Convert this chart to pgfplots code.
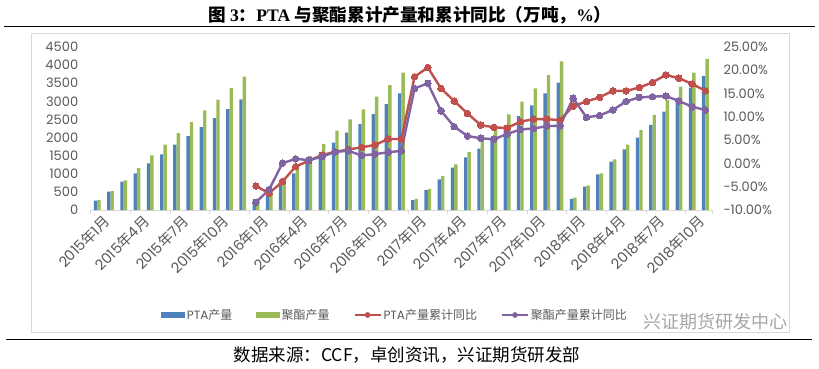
\documentclass[border=0pt]{standalone}
\usepackage{pgfplots}
\usepackage{pgfplotstable}
\pgfplotsset{compat=1.18}
\usepackage{fontspec}
\setmainfont{Poppins}
\newfontfamily\cjk{Noto Sans CJK SC}
\newfontfamily\tnr{Liberation Serif}
\definecolor{cblue}{HTML}{4F81BD}
\definecolor{cgreen}{HTML}{9BBB59}
\definecolor{cred}{HTML}{C0504D}
\definecolor{cpurple}{HTML}{8064A2}
\definecolor{tgray}{HTML}{595959}
\definecolor{lgray}{HTML}{D9D9D9}
\newcommand{\ym}[2]{#1{\cjk 年}#2{\cjk 月}}

\pgfplotstableread{
x pta pet
0 260 276
1 506 524
2 782 819
3 1012 1159
4 1288 1509
5 1536 1803
6 1803 2125
7 2042 2429
8 2291 2751
9 2539 3045
10 2788 3367
11 3054 3680
12 285 315
13 520 590
14 730 880
15 1012 1196
16 1300 1490
17 1545 1821
18 1858 2190
19 2134 2502
20 2373 2778
21 2650 3128
22 2925 3450
23 3220 3790
24 276 304
25 552 580
26 846 938
27 1168 1260
28 1453 1600
29 1693 1950
30 2005 2300
31 2300 2640
32 2590 2990
33 2890 3360
34 3220 3727
35 3514 4100
36 304 340
37 644 672
38 984 1012
39 1334 1398
40 1674 1803
41 1996 2208
42 2347 2623
43 2714 3037
44 3050 3404
45 3380 3791
46 3700 4165
}\bars

\pgfplotstableread{
x red pur
12 -4.85 -8.35
13 -6.4 -5.6
14 -3.9 0.03
15 -0.7 1.0
16 0.6 0.7
17 1.8 1.45
18 2.5 2.5
19 3.0 2.7
20 3.45 1.7
21 3.96 2.0
22 5.25 2.4
23 5.25 2.7
24 18.6 16.1
25 20.6 17.2
26 16.1 11.3
27 13.4 7.9
28 10.75 5.9
29 8.25 5.4
30 7.75 5.2
31 7.6 6.3
32 8.97 7.3
33 9.5 7.5
34 9.5 8.0
35 9.3 8.1
36 12.3 14.0
37 13.3 9.9
38 14.2 10.3
39 15.6 11.5
40 15.55 13.3
41 16.3 14.2
42 17.4 14.33
43 19.0 14.48
44 18.3 13.4
45 17.06 12.18
46 15.6 11.47
}\lines

\begin{document}
\begin{tikzpicture}
\path[use as bounding box] (0pt,0pt) rectangle (819pt,368pt);
% frame
\draw[lgray, line width=1pt] (31pt,36pt) rectangle (789pt,335pt);
% title
\node at (410pt,353pt) {\fontsize{17.6}{17.6}\selectfont\tnr\bfseries{\cjk\bfseries 图 }3{\cjk\bfseries ：}PTA {\cjk\bfseries 与聚酯累计产量和累计同比（万吨，}\%{\cjk\bfseries ）}};
\draw[black, line width=1pt] (4pt,342pt) -- (815pt,342pt);
\draw[black, line width=1pt] (6pt,29pt) -- (812pt,29pt);
\node at (407pt,13pt) {\fontsize{17.5}{17.5}\selectfont\cjk 数据来源：CCF，卓创资讯，兴证期货研发部};

\begin{axis}[
  at={(90.7pt,158pt)}, anchor=south west, scale only axis,
  width=621.3pt, height=163pt,
  xmin=-0.5, xmax=46.5, ymin=0, ymax=4500,
  ybar=0pt, bar width=3.4pt,
  axis y line*=left, axis x line*=bottom,
  y axis line style={draw=none},
  x axis line style={lgray, line width=0.8pt},
  ytick={0,500,...,4500},
  yticklabels={0,500,1000,1500,2000,2500,3000,3500,4000,4500},
  yticklabel style={text=tgray, font=\fontsize{13}{13}\selectfont, xshift=-9pt},
  xtick={0,3,...,45},
  xticklabels={\ym{2015}{1},\ym{2015}{4},\ym{2015}{7},\ym{2015}{10},
               \ym{2016}{1},\ym{2016}{4},\ym{2016}{7},\ym{2016}{10},
               \ym{2017}{1},\ym{2017}{4},\ym{2017}{7},\ym{2017}{10},
               \ym{2018}{1},\ym{2018}{4},\ym{2018}{7},\ym{2018}{10}},
  xticklabel style={text=tgray, font=\fontsize{14.5}{14.5}\selectfont, rotate=45, anchor=north east, inner sep=1pt, yshift=-5pt, xshift=2pt},
  major tick length=0pt,
  extra x ticks={-0.5,2.5,5.5,8.5,11.5,14.5,17.5,20.5,23.5,26.5,29.5,32.5,35.5,38.5,41.5,44.5,46.5},
  extra x tick labels={},
  extra x tick style={major tick length=4pt, tick align=outside, tick style={lgray, line width=0.8pt}},
  clip=false,
]
\addplot[fill=cblue, draw=none] table[x=x, y=pta] {\bars};
\addplot[fill=cgreen, draw=none] table[x=x, y=pet] {\bars};
\end{axis}

\begin{axis}[
  at={(90.7pt,158pt)}, anchor=south west, scale only axis,
  width=621.3pt, height=163pt,
  xmin=-0.5, xmax=46.5, ymin=-10, ymax=25,
  axis y line*=right, axis x line=none,
  y axis line style={draw=none},
  ytick={-10,-5,...,25},
  yticklabels={-10.00\%,-5.00\%,0.00\%,5.00\%,10.00\%,15.00\%,20.00\%,25.00\%},
  yticklabel style={text=tgray, font=\fontsize{13}{13}\selectfont, anchor=west, xshift=8pt},
  major tick length=0pt,
  clip=false,
  legend columns=4,
  legend style={at={(0.49,-0.644)}, anchor=center, draw=none, fill=none,
    font=\fontsize{12}{12}\selectfont, text=tgray,
    /tikz/every even column/.append style={column sep=22pt}},
]
\addplot[cred, line width=2.4pt, mark=*, mark size=3.3pt, mark options={fill=cred, draw=cred, line width=0pt}, forget plot] table[x=x, y=red] {\lines};
\addplot[cpurple, line width=2.4pt, mark=*, mark size=3.3pt, mark options={fill=cpurple, draw=cpurple, line width=0pt}, forget plot] table[x=x, y=pur] {\lines};
\addlegendimage{legend image code/.code={\fill[cblue] (0pt,-2.5pt) rectangle (23pt,2.5pt);}}
\addlegendentry{PTA{\cjk 产量}}
\addlegendimage{legend image code/.code={\fill[cgreen] (0pt,-2.5pt) rectangle (23pt,2.5pt);}}
\addlegendentry{{\cjk 聚酯产量}}
\addlegendimage{legend image code/.code={\draw[cred, line width=1.8pt] (0pt,0pt) -- (26pt,0pt); \fill[cred] (13pt,0pt) circle (2.6pt);}}
\addlegendentry{PTA{\cjk 产量累计同比}}
\addlegendimage{legend image code/.code={\draw[cpurple, line width=1.8pt] (0pt,0pt) -- (26pt,0pt); \fill[cpurple] (13pt,0pt) circle (2.6pt);}}
\addlegendentry{{\cjk 聚酯产量累计同比}}
\end{axis}

\node[text=black!35, font=\fontsize{18}{18}\selectfont\cjk] at (715pt,46pt) {兴证期货研发中心};
\end{tikzpicture}
\end{document}
